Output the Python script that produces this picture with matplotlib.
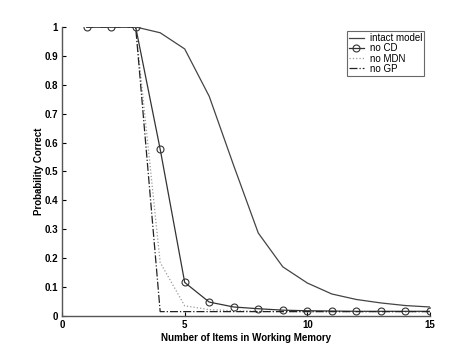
import numpy as np
import matplotlib.pyplot as plt

plt.rcParams['font.family'] = ['Liberation Sans', 'DejaVu Sans']

items = [1, 2, 3, 4, 5, 6, 7, 8, 9, 10, 11, 12, 13, 14, 15]
intact = [1.0, 1.0, 1.0, 0.98, 0.924, 0.76, 0.52, 0.287, 0.17, 0.114, 0.076, 0.057, 0.045, 0.036, 0.031]
no_cd = [1.0, 1.0, 1.0, 0.577, 0.116, 0.048, 0.031, 0.025, 0.02, 0.018, 0.017, 0.016, 0.016, 0.016, 0.016]
no_mdn = [1.0, 1.0, 1.0, 0.185, 0.035, 0.022, 0.018, 0.016, 0.015, 0.015, 0.015, 0.015, 0.015, 0.015, 0.015]
no_gp = [1.0, 1.0, 1.0, 0.015, 0.015, 0.015, 0.015, 0.015, 0.015, 0.015, 0.015, 0.015, 0.015, 0.015, 0.015]

fig = plt.figure(figsize=(4.74, 3.55), dpi=100)
ax = fig.add_axes([0.131, 0.110, 0.776, 0.814])

ax.plot(items, intact, '-', color='#444444', lw=0.9, label='intact model')
ax.plot(items, no_cd, '-o', color='#333333', lw=0.9, ms=5, mfc='none', mew=0.8, label='no CD')
ax.plot(items, no_mdn, ':', color='#999999', lw=0.9, label='no MDN')
ax.plot(items, no_gp, '-.', color='#222222', lw=0.9, label='no GP')

ax.set_xlim(0, 15)
ax.set_ylim(0, 1)
ax.set_xticks([0, 5, 10, 15])
ax.set_yticks(np.arange(0, 1.01, 0.1))
ax.set_yticklabels(['0', '0.1', '0.2', '0.3', '0.4', '0.5', '0.6', '0.7', '0.8', '0.9', '1'])
ax.tick_params(direction='in', length=3, width=0.8, labelsize=7, pad=3)
for lab in ax.get_xticklabels() + ax.get_yticklabels():
    lab.set_fontweight('bold')
for s in ['top', 'right']:
    ax.spines[s].set_visible(False)
for s in ['left', 'bottom']:
    ax.spines[s].set_color('#555555')
    ax.spines[s].set_linewidth(1.0)

ax.set_xlabel('Number of Items in Working Memory', fontsize=7, fontweight='bold', labelpad=2)
ax.set_ylabel('Probability Correct', fontsize=7, fontweight='bold', labelpad=0)

leg = ax.legend(loc='upper right', bbox_to_anchor=(0.985, 0.985), fontsize=7, frameon=True,
                fancybox=False, edgecolor='#444444', borderpad=0.2, labelspacing=0.02,
                handlelength=1.6, handletextpad=0.6, borderaxespad=0.0)
leg.get_frame().set_linewidth(0.8)

fig.savefig('out.png', dpi=100)
